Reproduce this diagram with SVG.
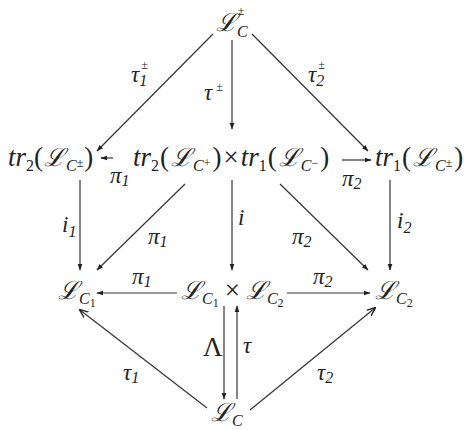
<svg xmlns="http://www.w3.org/2000/svg" width="474" height="430" viewBox="0 0 474 430">
<style>
text{font-family:"Liberation Serif","DejaVu Serif",serif;fill:#222;font-size:27px}
.i{font-style:italic}
.L{font-family:"DejaVu Serif",serif;font-style:italic;font-size:25px}
.s{font-size:16px}
.ss{font-size:12px}
.lbl{font-style:italic;font-size:23px}
.c{stroke:#333;stroke-width:1.2;fill:none}
</style>
<defs>
<marker id="a" viewBox="0 0 10 10" refX="9" refY="5" markerWidth="7" markerHeight="7" orient="auto-start-reverse" markerUnits="userSpaceOnUse">
<path d="M0,1.5 L10,5 L0,8.5 z" fill="#222"/>
</marker>
<marker id="o" viewBox="0 0 10 10" refX="9" refY="5" markerWidth="9" markerHeight="9" orient="auto" markerUnits="userSpaceOnUse">
<path d="M0,1 L10,5 L0,9" fill="none" stroke="#222" stroke-width="1.5"/>
</marker>
</defs>
<g id="connectors">
<line class="c" x1="213" y1="34" x2="97" y2="151" marker-end="url(#a)"/>
<line class="c" x1="252" y1="34" x2="368" y2="151" marker-end="url(#a)"/>
<line class="c" x1="232" y1="40" x2="232" y2="129" stroke="#bbb" stroke-width="0.8" marker-end="url(#a)"/>
<line class="c" x1="113" y1="158" x2="101" y2="158" marker-end="url(#a)"/>
<line class="c" x1="342" y1="160" x2="371" y2="160" marker-end="url(#a)"/>
<line class="c" x1="80" y1="180" x2="80" y2="270" marker-end="url(#a)"/>
<line class="c" x1="232" y1="180" x2="232" y2="270" marker-end="url(#a)"/>
<line class="c" x1="390" y1="180" x2="390" y2="270" marker-end="url(#a)"/>
<line class="c" x1="185" y1="184" x2="97" y2="270" marker-end="url(#a)"/>
<line class="c" x1="280" y1="184" x2="368" y2="270" marker-end="url(#a)"/>
<line class="c" x1="177" y1="293" x2="97" y2="293" marker-end="url(#a)"/>
<line class="c" x1="287" y1="293" x2="370" y2="293" marker-end="url(#a)"/>
<line class="c" x1="224" y1="306" x2="224" y2="399" marker-end="url(#a)"/>
<line class="c" x1="237" y1="399" x2="237" y2="306" marker-end="url(#a)"/>
<line class="c" x1="207" y1="408" x2="80" y2="310" marker-end="url(#o)"/>
<line class="c" x1="250" y1="410" x2="375" y2="308" marker-end="url(#o)"/>
</g>
<g id="labels">
<text class="lbl" x="131" y="82">τ<tspan class="s" dy="4">1</tspan><tspan class="ss" dx="-6" dy="-17">±</tspan></text>
<text class="lbl" x="308" y="82">τ<tspan class="s" dy="4">2</tspan><tspan class="ss" dx="-6" dy="-17">±</tspan></text>
<text class="lbl" x="204" y="100">τ<tspan class="ss" dx="4" dy="-9">±</tspan></text>
<text class="lbl" x="110" y="183">π<tspan class="s" dy="3">1</tspan></text>
<text class="lbl" x="342" y="186">π<tspan class="s" dy="3">2</tspan></text>
<text class="lbl" x="62" y="232">i<tspan class="s" dy="5">1</tspan></text>
<text class="lbl" x="238" y="225">i</text>
<text class="lbl" x="397" y="228">i<tspan class="s" dy="5">2</tspan></text>
<text class="lbl" x="148" y="244">π<tspan class="s" dy="3">1</tspan></text>
<text class="lbl" x="292" y="244">π<tspan class="s" dy="3">2</tspan></text>
<text class="lbl" x="132" y="284">π<tspan class="s" dy="3">1</tspan></text>
<text class="lbl" x="313" y="284">π<tspan class="s" dy="3">2</tspan></text>
<text x="203" y="356" font-size="23">Λ</text>
<text class="lbl" x="243" y="353">τ</text>
<text class="lbl" x="123" y="380">τ<tspan class="s" dy="3">1</tspan></text>
<text class="lbl" x="317" y="380">τ<tspan class="s" dy="3">2</tspan></text>
</g>
<g id="n-top"><text x="216" y="31"><tspan class="L">ℒ</tspan><tspan class="i s" dy="6">C</tspan><tspan class="ss" dx="-10" dy="-22">±</tspan></text></g>
<g id="n-trL"><text x="8" y="166"><tspan class="i">tr</tspan><tspan class="s" dy="5">2</tspan><tspan dy="-5">(</tspan><tspan class="L" dx="1">ℒ</tspan><tspan class="i s" dx="1" dy="5">C</tspan><tspan class="ss" dy="-4">±</tspan><tspan dx="1" dy="-1">)</tspan></text></g>
<g id="n-trM"><text x="133" y="166"><tspan class="i">tr</tspan><tspan class="s" dy="5">2</tspan><tspan dx="1" dy="-5">(</tspan><tspan class="L" dx="2">ℒ</tspan><tspan class="i s" dx="1" dy="5">C</tspan><tspan class="ss" dy="-4">+</tspan><tspan dx="2" dy="-1">)</tspan><tspan dx="2">×</tspan><tspan class="i" dx="2">tr</tspan><tspan class="s" dy="5">1</tspan><tspan dx="1" dy="-5">(</tspan><tspan class="L" dx="2">ℒ</tspan><tspan class="i s" dx="1" dy="5">C</tspan><tspan class="ss" dy="-4">−</tspan><tspan dx="2" dy="-1">)</tspan></text></g>
<g id="n-trR"><text x="375" y="166"><tspan class="i">tr</tspan><tspan class="s" dy="5">1</tspan><tspan dx="1" dy="-5">(</tspan><tspan class="L" dx="2">ℒ</tspan><tspan class="i s" dx="1" dy="5">C</tspan><tspan class="ss" dy="-4">±</tspan><tspan dx="2" dy="-1">)</tspan></text></g>
<g id="n-L1"><text x="58" y="299"><tspan class="L">ℒ</tspan><tspan class="i s" dy="5">C</tspan><tspan class="ss" dy="3">1</tspan></text></g>
<g id="n-L1xL2"><text x="181" y="299"><tspan class="L">ℒ</tspan><tspan class="i s" dy="5">C</tspan><tspan class="ss" dy="3">1</tspan><tspan dx="6" dy="-8">×</tspan><tspan class="L" dx="6">ℒ</tspan><tspan class="i s" dy="5">C</tspan><tspan class="ss" dy="3">2</tspan></text></g>
<g id="n-L2"><text x="375" y="299"><tspan class="L">ℒ</tspan><tspan class="i s" dy="5">C</tspan><tspan class="ss" dy="3">2</tspan></text></g>
<g id="n-bot"><text x="211" y="421"><tspan class="L">ℒ</tspan><tspan class="i s" dy="5">C</tspan></text></g>
</svg>
